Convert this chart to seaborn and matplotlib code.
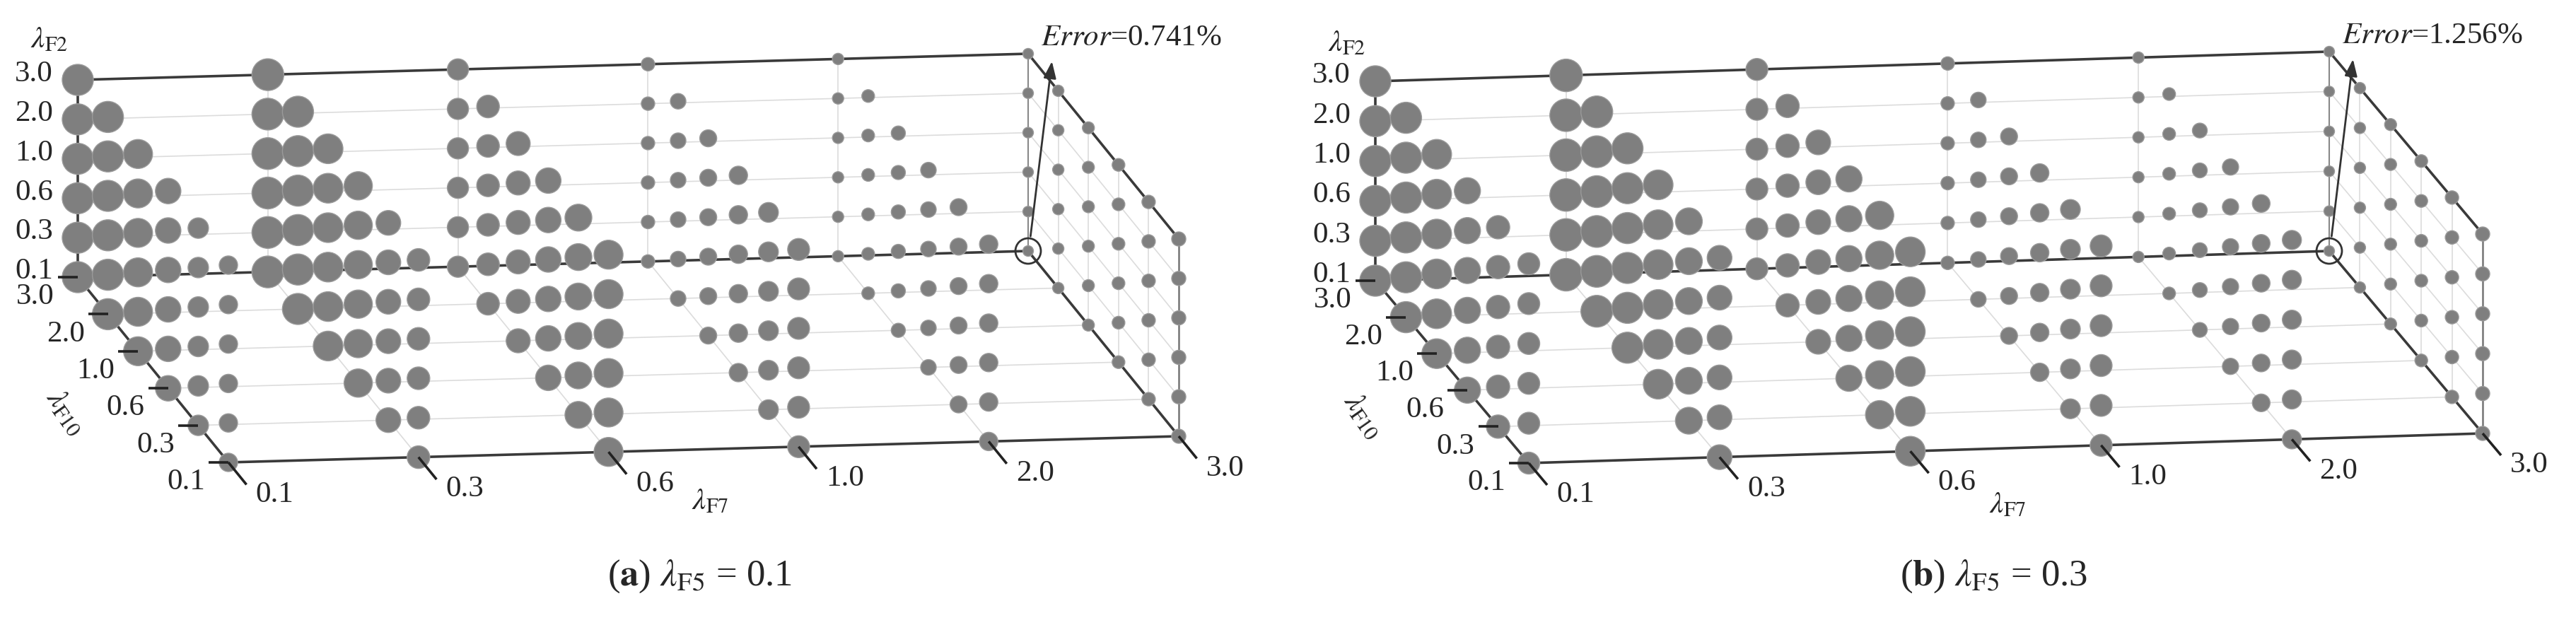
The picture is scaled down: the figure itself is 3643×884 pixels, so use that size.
import numpy as np
import pandas as pd
import matplotlib
matplotlib.use("Agg")
import matplotlib.pyplot as plt
import seaborn as sns

sns.set_theme(style="white")
plt.rcParams['font.family'] = ['Liberation Serif', 'DejaVu Serif']
plt.rcParams['mathtext.fontset'] = 'stix'

# ---- data ----
lam_F7 = [0.1, 0.3, 0.6, 1.0, 2.0, 3.0]
lam_F10 = [3.0, 2.0, 1.0, 0.6, 0.3, 0.1]   # back -> front
lam_F2 = [0.1, 0.3, 0.6, 1.0, 2.0, 3.0]    # bottom -> top
tick_labels = ["0.1", "0.3", "0.6", "1.0", "2.0", "3.0"]
tick_labels_F10 = ["3.0", "2.0", "1.0", "0.6", "0.3", "0.1"]

# bubble diameters (px) per lambda_F7 slice, per lambda_F10 (back->front)
diam_a = [
    [44, 44, 41, 36, 29, 26],
    [45, 44, 42, 40, 35, 32],
    [30, 32, 34, 36, 38, 41],
    [19, 22, 24, 26, 28, 31],
    [16, 18, 20, 22, 24, 26],
    [15, 16, 17, 18, 19, 20],
]
diam_b = [
    [44, 44, 42, 37, 33, 31],
    [46, 45, 44, 42, 38, 35],
    [31, 33, 35, 37, 40, 42],
    [19, 22, 24, 26, 28, 31],
    [16, 18, 21, 23, 25, 27],
    [15, 16, 17, 18, 19, 20],
]
errors = ["0.741%", "1.256%"]
captions = [r"($\mathbf{a}$) $\lambda_{\mathrm{F5}}$ = 0.1", r"($\mathbf{b}$) $\lambda_{\mathrm{F5}}$ = 0.3"]

# ---- projection geometry per panel (pixels) ----
panels = [
    dict(o=np.array([110., 392.]), vx=np.array([1344., -37.]), vk=np.array([213., 262.]), vj=np.array([0., -279.]),
         diam=diam_a, err=errors[0], cap=captions[0], capx=990),
    dict(o=np.array([1945., 397.]), vx=np.array([1349., -42.]), vk=np.array([217., 258.]), vj=np.array([0., -282.]),
         diam=diam_b, err=errors[1], cap=captions[1], capx=2820),
]

W, H = 3643, 884
fig = plt.figure(figsize=(W / 100, H / 100), dpi=100)
ax = fig.add_axes([0, 0, 1, 1])
ax.set_xlim(0, W)
ax.set_ylim(H, 0)
ax.axis("off")

TFS = 31
for P in panels:
    def proj(i, j, k, P=P):
        return P['o'] + P['vx'] * i / 5 + P['vk'] * k / 5 + P['vj'] * j / 5

    def line(a, b, **kw):
        ax.plot([a[0], b[0]], [a[1], b[1]], solid_capstyle='butt', **kw)

    light = dict(color="#dcdcdc", lw=1.2, zorder=1)
    for t in range(6):
        line(proj(0, t, 0), proj(5, t, 0), **light)
        line(proj(t, 0, 0), proj(t, 5, 0), **light)
        line(proj(0, 0, t), proj(5, 0, t), **light)
        line(proj(t, 0, 0), proj(t, 0, 5), **light)
        line(proj(5, t, 0), proj(5, t, 5), **light)
        line(proj(5, 0, t), proj(5, 5, t), **light)
    dark = dict(color="#3a3a3a", lw=2.6, zorder=2)
    line(proj(0, 5, 0), proj(5, 5, 0), **dark)
    line(proj(0, 0, 0), proj(5, 0, 0), **dark)
    line(proj(0, 0, 5), proj(5, 0, 5), **dark)
    line(proj(0, 0, 0), proj(0, 5, 0), **dark)
    line(proj(0, 0, 0), proj(0, 0, 5), **dark)
    line(proj(5, 5, 0), proj(5, 5, 5), **dark)
    line(proj(5, 0, 0), proj(5, 0, 5), **dark)
    line(proj(5, 0, 5), proj(5, 5, 5), color="#777777", lw=1.8, zorder=2)
    line(proj(5, 0, 0), proj(5, 5, 0), color="#888888", lw=1.5, zorder=2)

    # bubbles
    rows = []
    for i in range(6):
        for k in range(6):
            for j in range(6):
                p = proj(i, j, k)
                d = P['diam'][i][k]
                rows.append(dict(sx=p[0], sy=p[1], s=(0.72 * d) ** 2, order=k * 10 + i,
                                 F7=lam_F7[i], F10=lam_F10[k], F2=lam_F2[j]))
    df = pd.DataFrame(rows).sort_values("order")
    sns.scatterplot(data=df, x="sx", y="sy", size="s", sizes=(df.s.min(), df.s.max()),
                    color="#7f7f7f", edgecolor="#9a9a9a", linewidth=1, legend=False, ax=ax, zorder=3)
    ax.set_xlabel(""); ax.set_ylabel("")

    # ticks and labels
    for t in range(6):
        a = proj(t, 0, 5)
        b = a + P['vk'] / 5 * 0.6
        line(a, b, color="#222222", lw=2.6, zorder=4)
        ax.text(b[0] + 40, b[1] + 14, tick_labels[t], fontsize=TFS, ha="center", va="center")
        a = proj(0, 0, t)
        line(a, a + np.array([-28, 0]), color="#222222", lw=2.6, zorder=4)
        ax.text(a[0] - 60, a[1] + 28, tick_labels_F10[t], fontsize=TFS, ha="center", va="center")
        a = proj(0, t, 0)
        ax.text(a[0] - 62, a[1] - 8, tick_labels[t], fontsize=TFS, ha="center", va="center")
    o = P['o']
    ax.text(o[0] - 40, o[1] - 335, r"$\lambda_{\mathrm{F2}}$", fontsize=TFS, ha="center", va="center")
    ax.text(o[0] - 18, o[1] + 192, r"$\lambda_{\mathrm{F10}}$", fontsize=TFS, ha="center", va="center", rotation=-55)
    ax.text(o[0] + 894, o[1] + 318, r"$\lambda_{\mathrm{F7}}$", fontsize=TFS, ha="center", va="center")

    # error annotation
    c = proj(5, 0, 0)
    ax.add_patch(plt.Circle((c[0], c[1]), 18, fill=False, ec="#333333", lw=2, zorder=5))
    tip = proj(5, 5, 0) + np.array([34, 8])
    ax.annotate("", xy=(tip[0], tip[1]), xytext=(c[0] + 3, c[1] - 18),
                arrowprops=dict(arrowstyle="-|>,head_length=1.2,head_width=0.45", color="#333333", lw=2), zorder=5)
    tp = proj(5, 5, 0)
    ax.text(tp[0] + 18, tp[1] - 22, r"$\mathit{Error}$=" + P['err'], fontsize=TFS, ha="left", va="center")

    ax.text(P['capx'], 815, P['cap'], fontsize=38, ha="center", va="center")

fig.savefig("out.png", dpi=100)
